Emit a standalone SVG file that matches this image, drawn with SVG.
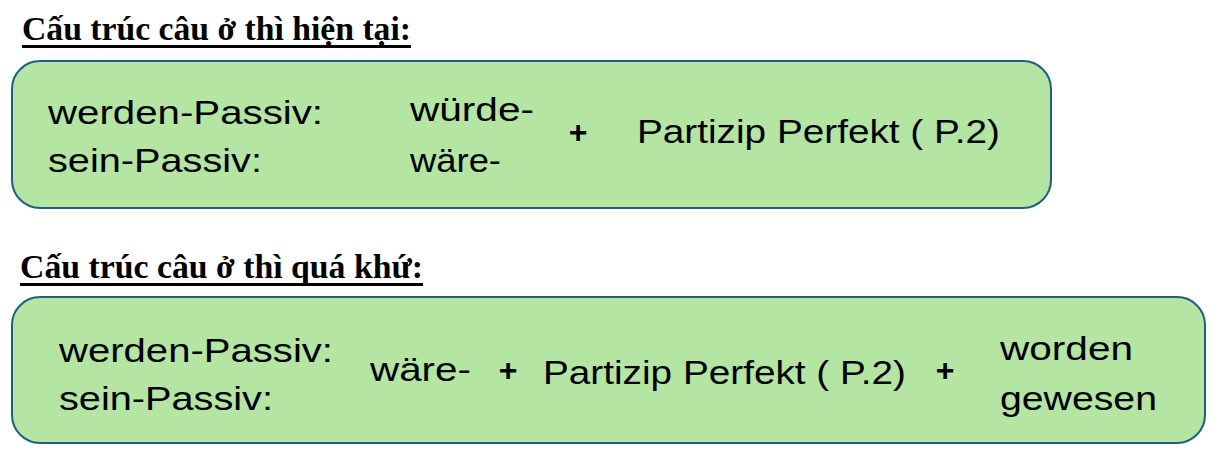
<svg xmlns="http://www.w3.org/2000/svg" width="1221" height="467" viewBox="0 0 1221 467">
<style>
.title{font-family:"Liberation Serif","Times New Roman",serif;font-weight:bold;font-size:33px;fill:#000}
.ul{stroke:#000;stroke-width:3}
.box{fill:#b4e5a2;stroke:#1f5f86;stroke-width:2}
.t{font-family:"Liberation Sans",Arial,sans-serif;font-size:33px;fill:#000}
.plus{font-family:"Liberation Sans",Arial,sans-serif;font-size:32px;font-weight:bold;fill:#000;text-anchor:middle}
</style>
<rect width="1221" height="467" fill="#fff"/>
<g id="title-present">
<text class="title" x="22" y="40" textLength="389" lengthAdjust="spacingAndGlyphs">Cấu trúc câu ở thì hiện tại:</text>
<line class="ul" x1="22" y1="46.5" x2="411" y2="46.5"/>
</g>
<g id="title-past">
<text class="title" x="20" y="278" textLength="403" lengthAdjust="spacingAndGlyphs">Cấu trúc câu ở thì quá khứ:</text>
<line class="ul" x1="20" y1="284.5" x2="423" y2="284.5"/>
</g>
<g id="box-present">
<rect class="box" x="12" y="61" width="1039" height="147" rx="28"/>
<text class="t" x="48" y="124" textLength="275" lengthAdjust="spacingAndGlyphs">werden-Passiv:</text>
<text class="t" x="48" y="172" textLength="214" lengthAdjust="spacingAndGlyphs">sein-Passiv:</text>
<text class="t" x="410" y="121" textLength="124" lengthAdjust="spacingAndGlyphs">würde-</text>
<text class="t" x="410" y="172" textLength="91" lengthAdjust="spacingAndGlyphs">wäre-</text>
<text class="plus" x="578" y="143">+</text>
<text class="t" x="637" y="143" textLength="363" lengthAdjust="spacingAndGlyphs">Partizip Perfekt ( P.2)</text>
</g>
<g id="box-past">
<rect class="box" x="12" y="297" width="1193" height="146" rx="28"/>
<text class="t" x="59" y="362" textLength="274" lengthAdjust="spacingAndGlyphs">werden-Passiv:</text>
<text class="t" x="59" y="410" textLength="214" lengthAdjust="spacingAndGlyphs">sein-Passiv:</text>
<text class="t" x="370" y="381" textLength="101" lengthAdjust="spacingAndGlyphs">wäre-</text>
<text class="plus" x="508" y="381">+</text>
<text class="t" x="543" y="384" textLength="363" lengthAdjust="spacingAndGlyphs">Partizip Perfekt ( P.2)</text>
<text class="plus" x="945" y="381">+</text>
<text class="t" x="1000" y="360" textLength="133" lengthAdjust="spacingAndGlyphs">worden</text>
<text class="t" x="1000" y="410" textLength="157" lengthAdjust="spacingAndGlyphs">gewesen</text>
</g>
</svg>
